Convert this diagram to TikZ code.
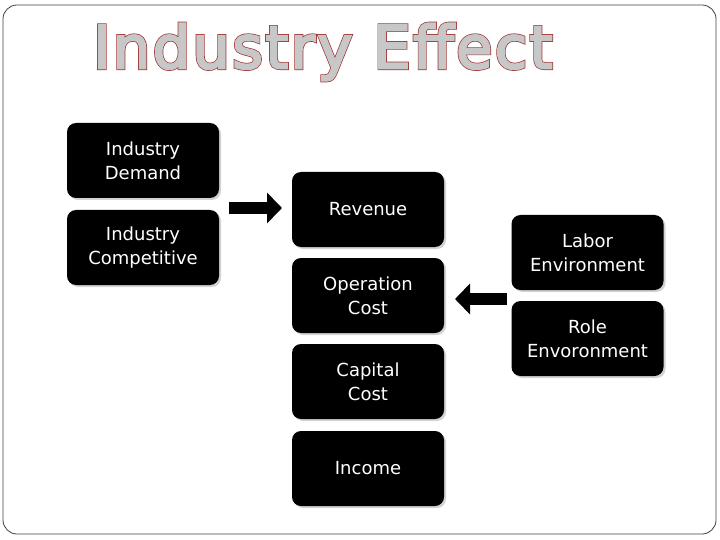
\documentclass[tikz,border=0pt]{standalone}
\usepackage{fontspec}
\setmainfont{DejaVu Sans}
\newfontfamily\titlefont[LetterSpace=4]{DejaVu Sans}
\usetikzlibrary{shadows,arrows.meta}
\definecolor{titlegray}{RGB}{200,200,200}
\newcommand\strokedtitle[2]{\color{titlegray}\special{pdf:literal direct 2 Tr #1 w #2 RG}Industry Effect\special{pdf:literal direct 0 Tr}}
\begin{document}
\begin{tikzpicture}[x=1pt, y=-1pt,
frame/.style={draw=black!75, line width=0.8pt, rounded corners=14pt},
box/.style={rectangle, rounded corners=9pt, fill=black, text=white, minimum width=152pt, minimum height=75pt, align=center, font=\fontsize{18}{24}\selectfont, drop shadow={shadow xshift=2pt, shadow yshift=-2pt, opacity=.35}},
blockarrow/.style={draw=black, line width=12pt, -{Triangle[length=15pt, width=30pt]}},
heading/.style={font=\titlefont\fontsize{59}{64}\selectfont, inner sep=0pt},
]
\useasboundingbox (0,0) rectangle (720,540);
\draw[frame] (3,5) rectangle (716,534);

% title: red rim under a thickened grey letter
\node[heading] (title rim) at (323,52) {\strokedtitle{3.6}{0.62 0.2 0.2}};
\node[heading] (title) at (323,52) {\strokedtitle{2.2}{0.78 0.78 0.78}};

\node[box] (demand) at (143,160.5) {Industry\\Demand};
\node[box] (competitive) at (143,247.5) {Industry\\Competitive};

\node[box] (revenue) at (368,209.5) {Revenue};
\node[box] (opcost) at (368,295.5) {Operation\\Cost};
\node[box] (capcost) at (368,381.5) {Capital\\Cost};
\node[box] (income) at (368,468.5) {Income};

\node[box] (labor) at (587.5,252.5) {Labor\\Environment};
\node[box] (role) at (587.5,338.5) {Role\\Envoronment};

% block arrows
\coordinate (in from) at (229,208);
\coordinate (in to) at (282,208);
\coordinate (env from) at (507,299);
\coordinate (env to) at (455,299);
\draw[blockarrow] (in from) -- (in to);
\draw[blockarrow] (env from) -- (env to);
\end{tikzpicture}
\end{document}
